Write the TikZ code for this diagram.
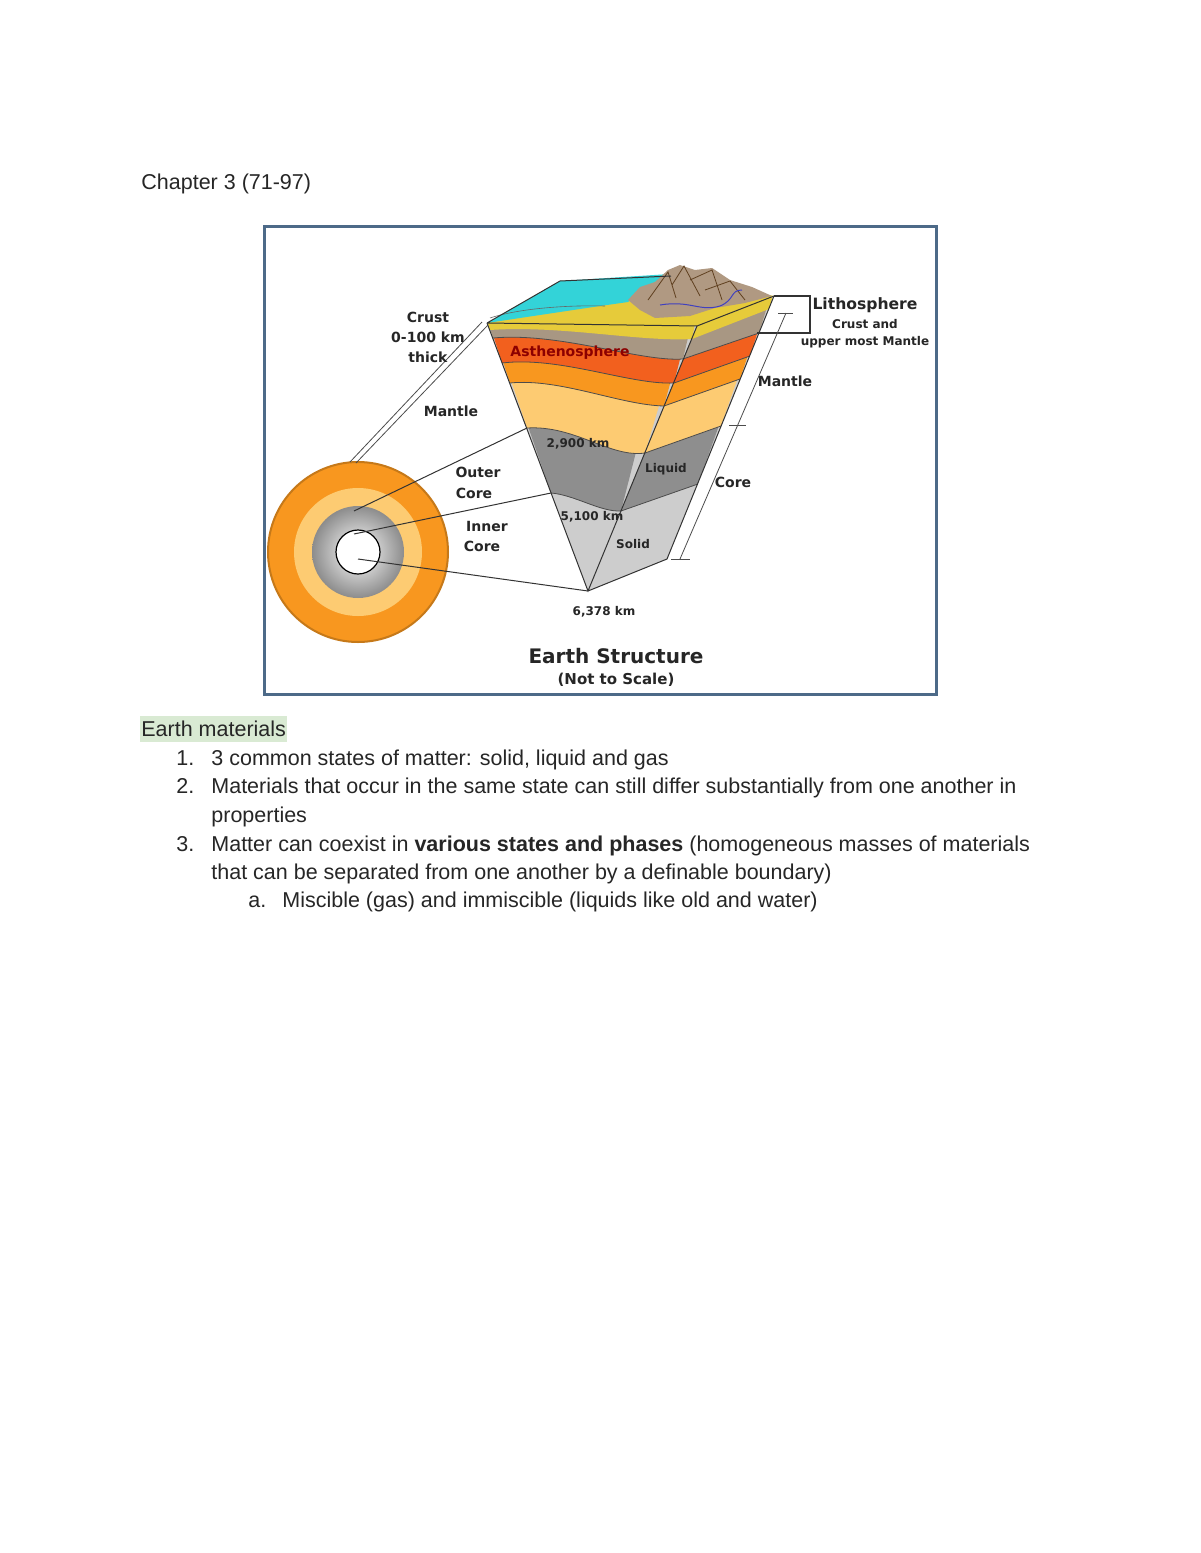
\documentclass[tikz,border=0pt]{standalone}
\usepackage{fontspec}
\setmainfont{Liberation Sans}
\newfontfamily\dv{DejaVu Sans}
\begin{document}
\begin{tikzpicture}[x=0.5pt,y=-0.5pt,
  lbl/.style={font=\dv\bfseries\fontsize{7}{8}\selectfont, text=black!85, inner sep=0pt},
  slbl/.style={font=\dv\bfseries\fontsize{6}{7}\selectfont, text=black!85, inner sep=0pt},
  body/.style={font=\fontsize{10.75}{12}\selectfont, anchor=base west, inner sep=0pt, text=black!85},
  edge/.style={draw=black!80, line width=0.5pt}]
\definecolor{cyanw}{HTML}{33D3D8}
\definecolor{landy}{HTML}{E6CB3A}
\definecolor{gbrown}{HTML}{A89783}
\definecolor{redo}{HTML}{F2601E}
\definecolor{oran}{HTML}{F8971F}
\definecolor{lor}{HTML}{FDCB72}
\definecolor{cgray}{HTML}{8E8E8E}
\definecolor{lgray}{HTML}{CDCDCD}
\definecolor{frameb}{HTML}{4D6A88}
\definecolor{hl}{HTML}{D9EAD3}
\useasboundingbox (0,0) rectangle (1200,1553);
\fill[white] (0,0) rectangle (1200,1553);
% frame
\draw[frameb, line width=1.5pt] (264,226) rectangle (936,694);
% coordinates
\coordinate (LT) at (487,323); \coordinate (FT) at (697,326);
\coordinate (RT) at (774,296); \coordinate (BK) at (560,281);
\coordinate (MB) at (671,276); \coordinate (AP) at (588,591);
\coordinate (RB) at (667,559);
% left face
\begin{scope}
\clip (LT) -- (FT) -- (AP) -- cycle;
\fill[lgray] (LT) -- (FT) -- (AP) -- cycle;
\fill[cgray] (551,493) .. controls (575,495) and (600,512) .. (621,511) -- (700,200) -- (450,200) -- cycle;
\fill[lor] (527,428) .. controls (575,425) and (610,458) .. (645,453) -- (720,200) -- (450,200) -- cycle;
\fill[oran] (510,383) .. controls (560,378) and (620,405) .. (664,406) -- (720,200) -- (450,200) -- cycle;
\fill[redo] (502,363) .. controls (560,356) and (630,385) .. (674,383) -- (720,200) -- (450,200) -- cycle;
\fill[gbrown] (493,338) .. controls (560,332) and (640,362) .. (683,359) -- (720,200) -- (450,200) -- cycle;
\fill[landy] (490,330) .. controls (560,325) and (640,342) .. (692,339) -- (720,200) -- (450,200) -- cycle;
\draw[black!70, line width=0.4pt] (551,493) .. controls (575,495) and (600,512) .. (621,511);
\draw[black!70, line width=0.4pt] (527,428) .. controls (575,425) and (610,458) .. (645,453);
\draw[black!70, line width=0.4pt] (510,383) .. controls (560,378) and (620,405) .. (664,406);
\draw[black!70, line width=0.4pt] (502,363) .. controls (560,356) and (630,385) .. (674,383);
\draw[black!70, line width=0.4pt] (493,338) .. controls (560,332) and (640,362) .. (683,359);
\end{scope}
% right face
\begin{scope}
\clip (FT) -- (RT) -- (RB) -- (AP) -- cycle;
\fill[lgray] (FT) -- (RT) -- (RB) -- (AP) -- cycle;
\fill[cgray] (621,511) -- (698,484) -- (800,200) -- (600,200) -- cycle;
\fill[lor] (645,453) -- (721,426) -- (800,200) -- (600,200) -- cycle;
\fill[oran] (664,406) -- (740,379) -- (800,200) -- (600,200) -- cycle;
\fill[redo] (674,383) -- (750,356) -- (800,200) -- (600,200) -- cycle;
\fill[gbrown] (683,359) -- (759,333) -- (800,200) -- (600,200) -- cycle;
\fill[landy] (692,339) -- (769,309) -- (800,200) -- (600,200) -- cycle;
\draw[black!70, line width=0.4pt] (621,511) -- (698,484) (645,453) -- (721,426) (664,406) -- (740,379) (674,383) -- (750,356) (683,359) -- (759,333);
\end{scope}
% top face
\fill[landy] (LT) -- (BK) -- (MB) -- (RT) -- (FT) -- cycle;
\fill[cyanw] (LT) -- (BK) -- (670,274) -- (640,290) -- (628,302) -- (600,306) -- (560,312) -- (520,318) -- cycle;
\draw[black!60, line width=0.3pt] (490,318) .. controls (520,308) and (570,305) .. (605,306);
\fill[brown!45!gray!80] (628,300) -- (640,287) -- (655,282) -- (668,270) -- (680,265) -- (695,270) -- (712,268) -- (730,280) -- (752,287) -- (772,296) -- (745,303) -- (715,308) -- (690,316) -- (655,318) -- (640,310) -- cycle;
\draw[brown!50!black, line width=0.4pt] (648,300) -- (668,272) -- (676,298) (672,285) -- (684,266) -- (700,296) (690,280) -- (712,270) -- (722,300) (705,290) -- (730,281) -- (745,300);
\draw[blue!50!gray, line width=0.5pt] (660,305) .. controls (690,300) and (700,312) .. (720,306) .. controls (735,300) and (730,290) .. (742,290);
\draw[edge] (LT) -- (BK) -- (MB) (RT) -- (FT) -- (LT);
% edges
\draw[edge] (LT) -- (AP) -- (FT) (RT) -- (RB) -- (AP);
% circle
\coordinate (C) at (358,552);
\fill[oran] (C) circle[radius=90];
\draw[oran!80!black, line width=1pt] (C) circle[radius=90];
\fill[lor] (C) circle[radius=64];
\shade[inner color=white, outer color=black!45] (C) circle[radius=46];
\fill[white] (C) circle[radius=22];
\draw[black, line width=0.6pt] (C) circle[radius=22];
% connectors from circle
\draw[black!80, line width=0.5pt] (354,511) -- (527,428);
\draw[black!80, line width=0.5pt] (354,534) -- (551,493);
\draw[black!80, line width=0.5pt] (358,559) -- (AP);
\draw[black!70, line width=0.4pt] (482,322) -- (350,462) (488,325) -- (356,463);
% bracket and dimension line
\draw[black!80, line width=0.6pt] (RT) -- (810,296) -- (810,333) -- (757,333);
\draw[black!70, line width=0.4pt] (786,313) -- (680,559);
\draw[black!70, line width=0.4pt] (778,313) -- (793,313) (729,425) -- (746,425) (671,559) -- (690,559);
% labels
\node[lbl] (crust) at (428,317) {Crust};
\node[lbl] at (428,337) {0-100 km};
\node[lbl] at (428,357) {thick};
\node[lbl, text=red!55!black] at (570,353) {Asthenosphere};
\node[lbl] at (451,411) {Mantle};
\node[slbl] at (578,444) {2,900 km};
\node[lbl] at (478,472) {Outer};
\node[lbl] at (474,493) {Core};
\node[lbl] at (487,526) {Inner};
\node[lbl] at (482,546) {Core};
\node[slbl] at (592,517) {5,100 km};
\node[slbl] at (666,469) {Liquid};
\node[slbl] at (633,544) {Solid};
\node[slbl] at (604,612) {6,378 km};
\node[lbl] at (785,381) {Mantle};
\node[lbl] at (733,482) {Core};
\node[lbl, font=\dv\bfseries\fontsize{7.8}{9}\selectfont] at (865,305) {Lithosphere};
\node[slbl] at (865,324) {Crust and};
\node[slbl] at (865,342) {upper most Mantle};
\node[lbl, font=\dv\bfseries\fontsize{10}{12}\selectfont] at (616,656) {Earth Structure};
\node[lbl, font=\dv\bfseries\fontsize{7.5}{9}\selectfont] at (616,680) {(Not to Scale)};
% body text
\node[body] at (141,189) {Chapter 3 (71-97)};
\fill[hl] (140,716) rectangle (287,742);
\node[body] at (141,736) {Earth materials};
\node[body] at (176,765) {1.};
\node[body] at (211,765) {3 common states of matter: solid, liquid and gas};
\node[body] at (176,793) {2.};
\node[body] at (211,793) {Materials that occur in the same state can still differ substantially from one another in};
\node[body] at (211,822) {properties};
\node[body] at (176,851) {3.};
\node[body] at (211,851) {Matter can coexist in \textbf{various states and phases} (homogeneous masses of materials};
\node[body] at (211,879) {that can be separated from one another by a definable boundary)};
\node[body] at (248,907) {a.};
\node[body] at (282,907) {Miscible (gas) and immiscible (liquids like old and water)};
\end{tikzpicture}
\end{document}
